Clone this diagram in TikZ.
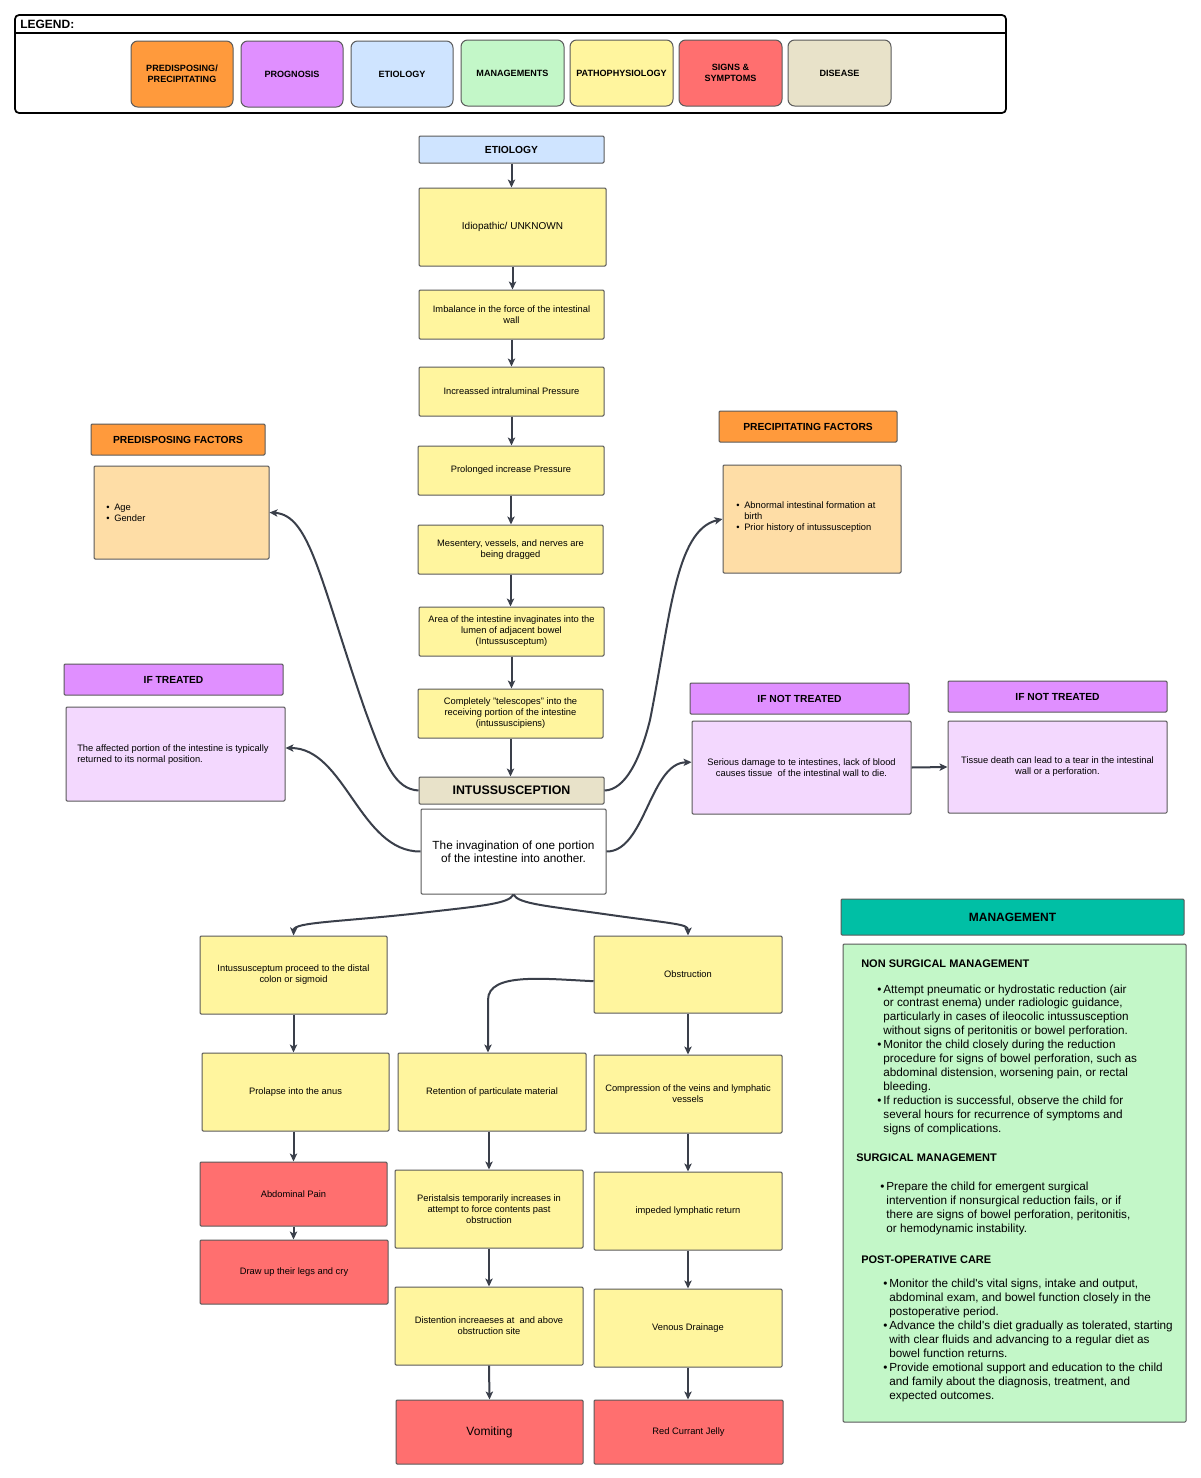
\documentclass[tikz,border=0pt]{standalone}
\usepackage{fontspec}
\setmainfont{Liberation Sans}
\usetikzlibrary{arrows.meta}
\definecolor{cOr}{HTML}{FF9A3C}
\definecolor{cOrL}{HTML}{FEDDA6}
\definecolor{cPu}{HTML}{E08FFF}
\definecolor{cPuL}{HTML}{F3D8FE}
\definecolor{cBl}{HTML}{CFE4FF}
\definecolor{cGr}{HTML}{C3F7C8}
\definecolor{cYe}{HTML}{FFF59E}
\definecolor{cRe}{HTML}{FF6F6F}
\definecolor{cDi}{HTML}{E8E2C9}
\definecolor{cTe}{HTML}{00BFA5}
\definecolor{cBo}{HTML}{5A5A5A}
\definecolor{cAr}{HTML}{3A3F4A}
\newcommand\fs[2]{\fontsize{#1}{#2}\selectfont}
\newcommand\bl{\makebox[4.6pt][l]{•}}
\newcommand\ind{\hspace*{4.6pt}}
\newcommand\bls{\makebox[6pt][l]{•}}
\newcommand\inds{\hspace*{6pt}}
\begin{document}
\begin{tikzpicture}[x=0.75pt,y=-0.75pt,
  bx/.style 2 args={minimum width={#1*0.75pt},minimum height={#2*0.75pt}},
  base/.style={draw=cBo,line width=0.75pt,inner sep=0pt,align=center,rounded corners=0.8pt,font=\fs{7}{8.25}},
  yel/.style={base,fill=cYe},
  red/.style={base,fill=cRe},
  hdr/.style={font=\bfseries\fs{7.7}{9}},
  legbox/.style={base,rounded corners=5pt,font=\bfseries\fs{6.8}{8.6}},
  arr/.style={draw=cAr,line width=1.5pt,-{Stealth[length=6pt,width=5.5pt,inset=1.5pt]}},
  txt/.style={inner sep=0pt,align=left,font=\fs{7}{8.25}},
  mtxt/.style={inner sep=0pt,align=left,font=\fs{8.8}{10.43}},
  mhdr/.style={inner sep=0pt,anchor=west,font=\bfseries\fs{8.25}{10}}]
\useasboundingbox (0,0) rectangle (1200,1478);
\fill[white] (0,0) rectangle (1200,1478);

% ---------------- legend ----------------
\draw[line width=1.3pt,rounded corners=3pt] (15,15) rectangle (1006,113);
\draw[line width=1.3pt] (15,33) -- (1006,33);
\node[inner sep=0pt,anchor=west,font=\bfseries\fs{9}{10}] (legt) at (20,24) {LEGEND:};
\node[legbox,fill=cOr,bx={102}{66}] (lg1) at (182,74) {PREDISPOSING/\\PRECIPITATING};
\node[legbox,fill=cPu,bx={102}{66}] (lg2) at (292,74) {PROGNOSIS};
\node[legbox,fill=cBl,bx={102}{66}] (lg3) at (402,74) {ETIOLOGY};
\node[legbox,fill=cGr,bx={103}{66}] (lg4) at (512.5,73) {MANAGEMENTS};
\node[legbox,fill=cYe,bx={103}{66}] (lg5) at (621.5,73) {PATHOPHYSIOLOGY};
\node[legbox,fill=cRe,bx={103}{66}] (lg6) at (730.5,73) {SIGNS \&\\SYMPTOMS};
\node[legbox,fill=cDi,bx={103}{66}] (lg7) at (839.5,73) {DISEASE};

% ---------------- central column ----------------
\node[base,fill=cBl,bx={185}{27},hdr] (etio) at (511.5,149.5) {ETIOLOGY};
\node[yel,bx={187}{78},font=\fs{7.5}{9}] (idio) at (512.5,227) {Idiopathic/ UNKNOWN};
\node[yel,bx={185}{49}] (imb) at (511.5,314.5) {Imbalance in the force of the intestinal\\wall};
\node[yel,bx={185}{49}] (incr) at (511.5,391.5) {Increassed intraluminal Pressure};
\node[yel,bx={186}{49}] (prol) at (511,470.5) {Prolonged increase Pressure};
\node[yel,bx={185}{49}] (mes) at (510.5,549.5) {Mesentery, vessels, and nerves are\\being dragged};
\node[yel,bx={185}{49}] (area) at (511.5,631.5) {Area of the intestine invaginates into the\\lumen of adjacent bowel\\(Intussusceptum)};
\node[yel,bx={185}{49}] (tele) at (510.5,713.5) {Completely "telescopes" into the\\receiving portion of the intestine\\(intussuscipiens)};
\node[base,fill=cDi,bx={185}{27},font=\bfseries\fs{9.3}{11}] (dis) at (511.5,790.5) {INTUSSUSCEPTION};
\node[base,fill=white,bx={185}{85},font=\fs{8.85}{9.75}] (inv) at (513.5,851.5) {The invagination of one portion\\of the intestine into another.};

\draw[arr] (etio.south) -- (etio.south |- idio.north);
\draw[arr] (idio.south) -- (idio.south |- imb.north);
\draw[arr] (imb.south) -- (imb.south |- incr.north);
\draw[arr] (incr.south) -- (incr.south |- prol.north);
\draw[arr] (prol.south) -- (prol.south |- mes.north);
\draw[arr] (mes.south) -- (mes.south |- area.north);
\draw[arr] (area.south) -- (area.south |- tele.north);
\draw[arr] (tele.south) -- (tele.south |- dis.north);

% ---------------- left side ----------------
\node[base,fill=cOr,bx={174}{31},hdr] (pfh) at (178,439.5) {PREDISPOSING FACTORS};
\node[base,fill=cOrL,bx={175}{93}] (pfb) at (181.5,512.5) {};
\node[txt,anchor=west] (pft) at (106,512.5) {\bls Age\\\bls Gender};
\node[base,fill=cPu,bx={219}{31},hdr] (ith) at (173.5,679.5) {IF TREATED};
\node[base,fill=cPuL,bx={219}{94}] (itb) at (175.5,754) {};
\node[txt,anchor=west] (itt) at (77,754.5) {The affected portion of the intestine is typically\\returned to its normal position.};

% ---------------- right side ----------------
\node[base,fill=cOr,bx={178}{31},hdr] (prh) at (808,426.5) {PRECIPITATING FACTORS};
\node[base,fill=cOrL,bx={178}{108}] (prb) at (812,519) {};
\node[txt,anchor=west] (prt) at (736,517) {\bls Abnormal intestinal formation at\\\inds birth\\\bls Prior history of intussusception};
\node[base,fill=cPu,bx={219}{31},hdr] (nt1h) at (799.5,698.5) {IF NOT TREATED};
\node[base,fill=cPuL,bx={219}{93}] (nt1b) at (801.5,767.5) {Serious damage to te intestines, lack of blood\\causes tissue\ \ of the intestinal wall to die.};
\node[base,fill=cPu,bx={219}{31},hdr] (nt2h) at (1057.5,696.5) {IF NOT TREATED};
\node[base,fill=cPuL,bx={219}{92}] (nt2b) at (1057.5,767) {Tissue death can lead to a tear in the intestinal\\wall or a perforation.};
\draw[arr] (nt1b.east) -- (nt2b.west);

% ---------------- curved connectors ----------------
\draw[arr] (dis.west) .. controls (395,789) and (385,765) .. (365,710) .. controls (320,580) and (310,515) .. (pfb.east);
\draw[arr] (inv.west) .. controls (360,852) and (345,748) .. ([yshift=4.5pt]itb.east);
\draw[arr] (dis.east) .. controls (625,790) and (640,760) .. (650,720) .. controls (670,620) and (675,530) .. (prb.west);
\draw[arr] (inv.east) .. controls (645,852) and (650,763) .. ([yshift=4pt]nt1b.west);

% ---------------- lower part ----------------
\node[yel,bx={187}{78}] (dist) at (293.5,975) {Intussusceptum proceed to the distal\\colon or sigmoid};
\node[yel,bx={188}{77}] (obs) at (688,974.5) {Obstruction};
\node[yel,bx={187}{78}] (prola) at (295.5,1092) {Prolapse into the anus};
\node[yel,bx={188}{78}] (ret) at (492,1092) {Retention of particulate material};
\node[yel,bx={188}{78}] (comp) at (688,1094) {Compression of the veins and lymphatic\\vessels};
\node[red,bx={187}{64}] (abd) at (293.5,1194) {Abdominal Pain};
\node[red,bx={188}{64}] (drw) at (294,1272) {Draw up their legs and cry};
\node[yel,bx={188}{78}] (peri) at (489,1209) {Peristalsis temporarily increases in\\attempt to force contents past\\obstruction};
\node[yel,bx={188}{78}] (imp) at (688,1211) {impeded lymphatic return};
\node[yel,bx={188}{78}] (dsn) at (489,1326) {Distention increaeses at\ \ and above\\obstruction site};
\node[yel,bx={188}{78}] (ven) at (688,1328) {Venous Drainage};
\node[red,bx={187}{64},font=\fs{9}{11}] (vom) at (489.5,1432) {Vomiting};
\node[red,bx={189}{64}] (rcj) at (688.5,1432) {Red Currant Jelly};

\draw[arr] (inv.south) .. controls (509,904) and (480,906) .. (420,913) .. controls (340,922) and (294,922) .. (dist.north);
\draw[arr] (inv.south) .. controls (518,904) and (548,906) .. (611,915) .. controls (675,924) and (688,924) .. (obs.north);
\draw[arr] ([yshift=-5pt]obs.west) .. controls (545,979) and (488,972) .. (488,1000) -- ([xshift=-3pt]ret.north);

\draw[arr] (dist.south) -- (dist.south |- prola.north);
\draw[arr] (abd.north |- prola.south) -- (abd.north);
\draw[arr] (abd.south) -- (abd.south |- drw.north);
\draw[arr] (peri.north |- ret.south) -- (peri.north);
\draw[arr] (peri.south) -- (peri.south |- dsn.north);
\draw[arr] (dsn.south) -- (vom.north);
\draw[arr] (obs.south) -- (obs.south |- comp.north);
\draw[arr] (comp.south) -- (comp.south |- imp.north);
\draw[arr] (imp.south) -- (imp.south |- ven.north);
\draw[arr] (ven.south) -- (ven.south |- rcj.north);

% ---------------- management ----------------
\node[base,fill=cTe,bx={343}{36},font=\bfseries\fs{9}{11}] (mh) at (1012.5,917) {MANAGEMENT};
\node[base,fill=cGr,bx={343}{478}] (mb) at (1014.5,1183) {};
\node[mhdr] (m1) at (861,964) {NON SURGICAL MANAGEMENT};
\node[mtxt,anchor=west] (m1t) at (877,1059.5) {\bl Attempt pneumatic or hydrostatic reduction (air\\
\ind or contrast enema) under radiologic guidance,\\
\ind particularly in cases of ileocolic intussusception\\
\ind without signs of peritonitis or bowel perforation.\\
\bl Monitor the child closely during the reduction\\
\ind procedure for signs of bowel perforation, such as\\
\ind abdominal distension, worsening pain, or rectal\\
\ind bleeding.\\
\bl If reduction is successful, observe the child for\\
\ind several hours for recurrence of symptoms and\\
\ind signs of complications.};
\node[mhdr] (m2) at (856,1158) {SURGICAL MANAGEMENT};
\node[mtxt,anchor=west] (m2t) at (880,1208.5) {\bl Prepare the child for emergent surgical\\
\ind intervention if nonsurgical reduction fails, or if\\
\ind there are signs of bowel perforation, peritonitis,\\
\ind or hemodynamic instability.};
\node[mhdr] (m3) at (861,1260) {POST-OPERATIVE CARE};
\node[mtxt,anchor=west] (m3t) at (883,1340.5) {\bl Monitor the child\textquotesingle s vital signs, intake and output,\\
\ind abdominal exam, and bowel function closely in the\\
\ind postoperative period.\\
\bl Advance the child\textquotesingle s diet gradually as tolerated, starting\\
\ind with clear fluids and advancing to a regular diet as\\
\ind bowel function returns.\\
\bl Provide emotional support and education to the child\\
\ind and family about the diagnosis, treatment, and\\
\ind expected outcomes.};
\end{tikzpicture}
\end{document}
